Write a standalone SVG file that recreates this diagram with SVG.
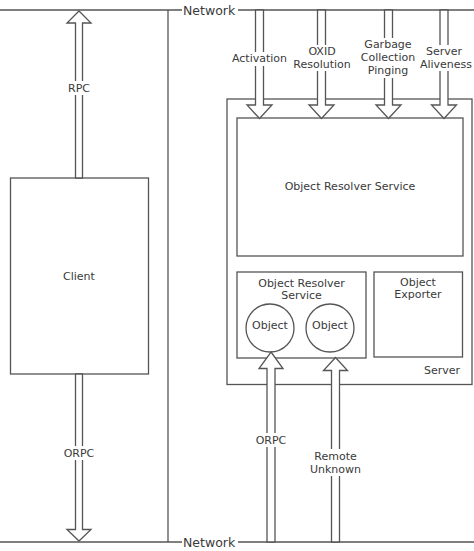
<svg xmlns="http://www.w3.org/2000/svg" width="474" height="551" viewBox="0 0 474 551">
  <style>
    .ln { stroke: #555; stroke-width: 1.3; fill: none; }
    .bx { stroke: #555; stroke-width: 1.3; fill: #fff; }
    .ar { stroke: #555; stroke-width: 1.3; fill: #fff; stroke-linejoin: miter; }
    .t { font-family: "DejaVu Sans", Verdana, sans-serif; font-size: 11px; fill: #3a3a3a; text-anchor: middle; }
    .net { font-family: "DejaVu Sans", Verdana, sans-serif; font-size: 12.5px; fill: #3a3a3a; }
    .bg { fill: #fff; stroke: none; }
  </style>
  <rect width="474" height="551" fill="#fff"/>

  <g id="network">
    <line class="ln" x1="0" y1="10" x2="182" y2="10"/>
    <line class="ln" x1="238" y1="10" x2="474" y2="10"/>
    <text class="net" x="183" y="15">Network</text>
    <line class="ln" x1="0" y1="542" x2="182" y2="542"/>
    <line class="ln" x1="238" y1="542" x2="474" y2="542"/>
    <text class="net" x="183" y="547">Network</text>
    <line class="ln" x1="168" y1="10" x2="168" y2="542"/>
  </g>

  <g id="client">
    <rect class="bx" x="10.5" y="178" width="138" height="196"/>
    <text class="t" x="79" y="280">Client</text>
  </g>

  <g id="server">
    <rect class="bx" x="227" y="99" width="245" height="285.5"/>
    <text class="t" x="460" y="374" style="text-anchor:end">Server</text>
  </g>

  <g id="ors-main">
    <rect class="bx" x="237" y="118" width="226" height="138"/>
    <text class="t" x="350" y="190">Object Resolver Service</text>
  </g>

  <g id="ors-small">
    <rect class="bx" x="237" y="272" width="129" height="86"/>
    <text class="t" x="301.5" y="287">Object Resolver</text>
    <text class="t" x="301.5" y="299">Service</text>
  </g>

  <g id="object1">
    <circle class="bx" cx="270" cy="328" r="24"/>
    <text class="t" x="270" y="329">Object</text>
  </g>

  <g id="object2">
    <circle class="bx" cx="330" cy="328" r="24"/>
    <text class="t" x="330" y="329">Object</text>
  </g>

  <g id="exporter">
    <rect class="bx" x="374" y="272" width="88.5" height="85"/>
    <text class="t" x="418" y="286">Object</text>
    <text class="t" x="418" y="298">Exporter</text>
  </g>

  <g id="connectors">
    <!-- RPC up arrow -->
    <polygon class="ar" points="79,11 91,23 82.5,23 82.5,178 75.5,178 75.5,23 67,23"/>
    <rect class="bg" x="66" y="81" width="26" height="14"/>
    <text class="t" x="79" y="92">RPC</text>
    <!-- ORPC down arrow (client) -->
    <polygon class="ar" points="79,541 91,529.5 82.5,529.5 82.5,374 75.5,374 75.5,529.5 67,529.5"/>
    <rect class="bg" x="62" y="446" width="34" height="14"/>
    <text class="t" x="79" y="457">ORPC</text>

    <!-- Activation -->
    <polygon class="ar" points="259.5,118.5 272,105 263.5,105 263.5,10 255.5,10 255.5,105 247,105"/>
    <rect class="bg" x="232" y="52" width="55" height="14"/>
    <text class="t" x="259.5" y="62">Activation</text>
    <!-- OXID Resolution -->
    <polygon class="ar" points="321.5,118.5 334,105 325.5,105 325.5,10 317.5,10 317.5,105 309,105"/>
    <rect class="bg" x="293" y="45" width="58" height="26"/>
    <text class="t" x="322" y="55">OXID</text>
    <text class="t" x="322" y="68">Resolution</text>
    <!-- Garbage Collection Pinging -->
    <polygon class="ar" points="388.5,118.5 401,105 392.5,105 392.5,10 384.5,10 384.5,105 376,105"/>
    <rect class="bg" x="360" y="38" width="58" height="40"/>
    <text class="t" x="388" y="48">Garbage</text>
    <text class="t" x="388" y="61">Collection</text>
    <text class="t" x="388" y="74">Pinging</text>
    <!-- Server Aliveness -->
    <polygon class="ar" points="444,118.5 456.5,105 448,105 448,10 440,10 440,105 431.5,105"/>
    <rect class="bg" x="419" y="45" width="54" height="26"/>
    <text class="t" x="444" y="55">Server</text>
    <text class="t" x="446" y="68">Aliveness</text>

    <!-- ORPC up to object -->
    <polygon class="ar" points="271,352 283,368.5 275,368.5 275,542 267,542 267,368.5 259,368.5"/>
    <rect class="bg" x="253" y="433" width="36" height="14"/>
    <text class="t" x="271" y="444">ORPC</text>
    <!-- Remote Unknown -->
    <polygon class="ar" points="335.5,357.5 347.5,370.5 339.5,370.5 339.5,542 331.5,542 331.5,370.5 323.5,370.5"/>
    <rect class="bg" x="310" y="449" width="52" height="27"/>
    <text class="t" x="335.5" y="460">Remote</text>
    <text class="t" x="335.5" y="473">Unknown</text>
  </g>
</svg>
